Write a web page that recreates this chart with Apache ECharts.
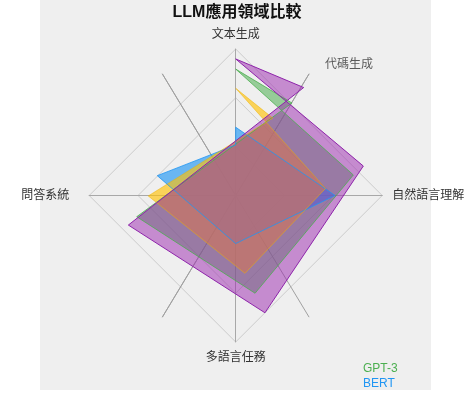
<!DOCTYPE html>
<html><head><meta charset="utf-8">
<script src="https://cdn.jsdelivr.net/npm/echarts@6/dist/echarts.min.js"></script>
<style>html,body{margin:0;padding:0;background:#fff;} #c{width:474px;height:391px;}</style>
</head><body><div id="c"></div>
<script>
// radar axes (counter-clockwise from top)
const indicators = ['文本生成', '問答系統', '多語言任務', '自然語言理解'];
const extraAxisName = '代碼生成';
const spokeAngles = [58.9, 121.1, 238.9, 301.1];
const spokeLength = 97.0;
// polygon vertices [radius (0-100), angle deg]; order: 文本生成, 自然語言理解, 多語言任務, 問答系統, 代碼生成
const gpt3 = [[86.3, 90], [81.5, 9.9], [68.0, 281.2], [69.1, 192.1], [73.9, 58.7]];
const bert = [[46.6, 90], [67.8, 0], [32.8, 270], [55.2, 165.8], [34.5, 90]];
const seriesC = [[73.2, 90], [61.5, 4.5], [53.5, 276.8], [59.7, 180.3], [58.6, 64.4]];
const seriesD = [[93.2, 90], [89.4, 13.0], [82.5, 284.0], [76.0, 195.4], [87.1, 57.8]];
const seriesNames = ['GPT-3', 'BERT', 'T5', 'GPT-4'];
const seriesData = [gpt3, bert, seriesC, seriesD];
const colors = ['#4caf50', '#2196f3', '#ffc107', '#9c27b0'];
const strokeColors = ['#4caf50', '#2196f3', '#f0b400', '#8e24aa'];
const strokeOpacity = [0.8, 0.8, 0.5, 1];
const areaOpacity = [0.55, 0.65, 0.65, 0.5];

const FONT = 'Arial, "Liberation Sans", "Noto Sans CJK TC", sans-serif';
const CENTER = [235.7, 195.5];
const RADIUS = 146.5;

const chart = echarts.init(document.getElementById('c'), null, {renderer: 'canvas'});

const spokePath = [];
spokeAngles.forEach(a => { spokePath.push([0, a]); spokePath.push([spokeLength, a]); });

const polySeries = seriesData.map((pts, i) => ({
  name: seriesNames[i],
  type: 'line',
  coordinateSystem: 'polar',
  polarIndex: 0,
  data: pts.concat([pts[0]]),
  symbol: 'none',
  showSymbol: false,
  smooth: false,
  clip: false,
  silent: true,
  color: colors[i],
  lineStyle: {color: strokeColors[i], width: 1, opacity: strokeOpacity[i]},
  areaStyle: {color: colors[i], opacity: areaOpacity[i]},
  z: 3
}));

const namePad = {
  '文本生成': [0, 0, 0, 0],
  '問答系統': [0, 12, 0, 0],
  '多語言任務': [2, 0, 0, 0],
  '自然語言理解': [0, 0, 0, 2]
};
const rich = {};
indicators.forEach((n, i) => {
  rich['n' + i] = {padding: namePad[n], fontSize: 12, color: '#333', fontFamily: FONT};
});

chart.setOption({
  animation: false,
  textStyle: {fontFamily: FONT},
  graphic: [{
    type: 'rect', z: -10, silent: true,
    shape: {x: 40, y: 0, width: 391, height: 390},
    style: {fill: '#efefef'}
  }],
  title: {
    text: 'LLM應用領域比較', left: 'center', top: 0,
    textStyle: {fontSize: 16, fontWeight: 'bold', color: '#111', fontFamily: FONT}
  },
  legend: {
    data: [
      {name: 'GPT-3', textStyle: {color: colors[0]}},
      {name: 'BERT', textStyle: {color: colors[1]}}
    ],
    orient: 'vertical', left: 358, top: 363, padding: 0,
    itemWidth: 0, itemHeight: 10, itemGap: 3, icon: 'none',
    textStyle: {fontSize: 12, fontFamily: FONT}
  },
  radar: {
    center: CENTER, radius: RADIUS, startAngle: 90, shape: 'polygon', splitNumber: 3,
    indicator: indicators.map(n => ({name: n, max: 100})),
    nameGap: 8,
    axisName: {
      color: '#333', fontSize: 12, fontFamily: FONT,
      formatter: n => '{n' + indicators.indexOf(n) + '|' + n + '}',
      rich: rich
    },
    axisLine: {lineStyle: {color: '#a8a8a8', width: 1}},
    splitLine: {lineStyle: {color: '#cccccc', width: 1}},
    splitArea: {show: false}
  },
  polar: {center: CENTER, radius: RADIUS},
  angleAxis: {
    type: 'value', min: 0, max: 360, startAngle: 0, clockwise: false,
    show: false, axisLine: {show: false}, splitLine: {show: false}, axisLabel: {show: false}, axisTick: {show: false}
  },
  radiusAxis: {
    type: 'value', min: 0, max: 100,
    show: false, axisLine: {show: false}, splitLine: {show: false}, axisLabel: {show: false}, axisTick: {show: false}
  },
  series: [
    {
      name: 'spokes', type: 'line', coordinateSystem: 'polar', data: spokePath,
      symbol: 'none', silent: true, lineStyle: {color: '#a0a0a0', width: 1}, z: 1
    },
    {
      name: 'spokeLabel', type: 'scatter', coordinateSystem: 'polar',
      data: [[spokeLength, spokeAngles[0]]], symbolSize: 0, silent: true,
      label: {show: true, formatter: extraAxisName, position: 'right', distance: 0, offset: [16, -9.5],
        color: '#333', fontSize: 12, fontFamily: FONT}
    }
  ].concat(polySeries)
});
</script></body></html>
